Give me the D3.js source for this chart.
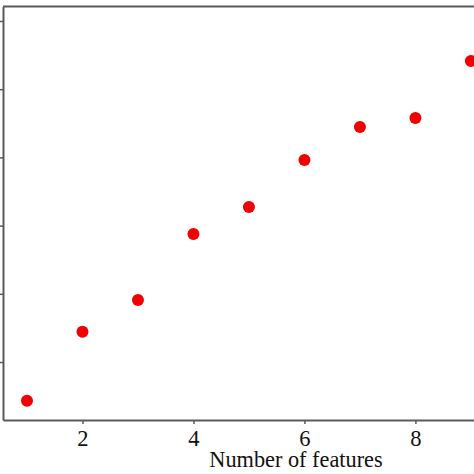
<!DOCTYPE html>
<html>
<head>
<meta charset="utf-8">
<script src="https://cdn.jsdelivr.net/npm/d3@7"></script>
<style>
  html, body { margin: 0; padding: 0; background: #fff; overflow: hidden; }
  svg { display: block; }
</style>
</head>
<body>
<svg id="chart" width="474" height="474"></svg>
<script>
const features = [1, 2, 3, 4, 5, 6, 7, 8, 9];
const scores   = [0.5716, 0.6222, 0.6455, 0.6938, 0.7136, 0.7481, 0.7723, 0.7789, 0.8207];
const xTicks = [2, 4, 6, 8];
const yTicks = [0.60, 0.65, 0.70, 0.75, 0.80, 0.85];
const xLabel = "Number of features";

const svg = d3.select("#chart");
const mLeft = 3, mRight = 482, mTop = 6.5, mBottom = 420;

const x = d3.scaleLinear().domain([0.5676, 9.2]).range([mLeft, mRight]);
const y = d3.scaleLinear().domain([0.5575, 0.8606]).range([mBottom, mTop]);

const axisColor = "#5a5a5a";

// frame (top and right border)
svg.append("line")
  .attr("x1", mLeft).attr("x2", mRight + 10)
  .attr("y1", mTop).attr("y2", mTop)
  .attr("stroke", axisColor).attr("stroke-width", 2);
svg.append("line")
  .attr("x1", mRight).attr("x2", mRight)
  .attr("y1", mTop).attr("y2", mBottom)
  .attr("stroke", axisColor).attr("stroke-width", 2);

// x axis
const gx = svg.append("g").attr("transform", `translate(0,${mBottom})`)
  .call(d3.axisBottom(x).tickValues(xTicks).tickSize(4).tickSizeOuter(0).tickPadding(6).tickFormat(d3.format("d")));
gx.select(".domain").attr("stroke", axisColor).attr("stroke-width", 2);
gx.selectAll(".tick line").attr("stroke", axisColor).attr("stroke-width", 1.5);
gx.selectAll(".tick text")
  .attr("fill", "#111")
  .style("font-family", "'Liberation Serif', 'Times New Roman', serif")
  .style("font-size", "22.5px");

// y axis (labels cropped off in the reference)
const gy = svg.append("g").attr("transform", `translate(${mLeft},0)`)
  .call(d3.axisLeft(y).tickValues(yTicks).tickSize(4).tickSizeOuter(0).tickFormat(""));
gy.select(".domain").attr("stroke", axisColor).attr("stroke-width", 2);
gy.selectAll(".tick line").attr("stroke", axisColor).attr("stroke-width", 1.5);

// points
svg.append("g").selectAll("circle")
  .data(features.map((f, i) => ({f, s: scores[i]})))
  .join("circle")
  .attr("cx", d => x(d.f))
  .attr("cy", d => y(d.s))
  .attr("r", 6)
  .attr("fill", "#f00000");

// x label
svg.append("text")
  .attr("x", 296).attr("y", 467)
  .attr("text-anchor", "middle")
  .attr("fill", "#111")
  .style("font-family", "'Liberation Serif', 'Times New Roman', serif")
  .style("font-size", "22.3px")
  .text(xLabel);
</script>
</body>
</html>
